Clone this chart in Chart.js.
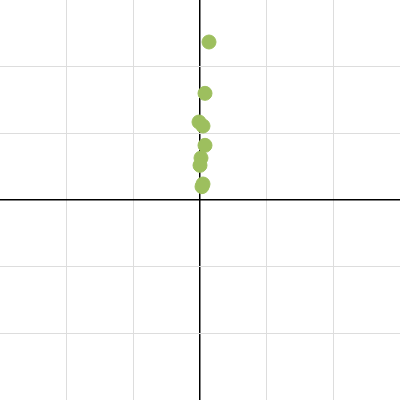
<!DOCTYPE html>
<html>
<head>
<script src="https://cdn.jsdelivr.net/npm/chart.js@4"></script>
<style>
  html, body { margin: 0; padding: 0; background: #fff; }
  #wrap { width: 400px; height: 400px; }
</style>
</head>
<body>
<div id="wrap"><canvas id="grafico"></canvas></div>
<script>
// data
const xValues = [0.135, 0.075, -0.015, 0.045, 0.075, 0.015, 0.0, 0.045, 0.03];
const yValues = [2.37, 1.6, 1.17, 1.11, 0.82, 0.63, 0.52, 0.24, 0.2];
const axisMin = -3;
const axisMax = 3;

const pontos = xValues.map((x, i) => ({ x: x, y: yValues[i] }));

function gridColor(ctx) {
  if (!ctx.tick) return "#dddddd";
  if (ctx.tick.value === 0) return "#000";
  if (Math.abs(ctx.tick.value) >= 3) return "rgba(0,0,0,0)";
  return "#dddddd";
}

const eixo = {
  type: "linear",
  min: axisMin,
  max: axisMax,
  ticks: { display: false, stepSize: 1, padding: 0 },
  border: { display: false },
  grid: {
    color: gridColor,
    lineWidth: (c) => (c.tick && c.tick.value === 0 ? 1.5 : 1),
    drawTicks: false,
    tickLength: 0,
  },
};

new Chart(document.getElementById("grafico"), {
  type: "scatter",
  data: {
    datasets: [
      {
        data: pontos,
        backgroundColor: "#9dbf5e",
        borderColor: "#9dbf5e",
        pointRadius: 7,
        pointHoverRadius: 7,
      },
    ],
  },
  options: {
    responsive: true,
    maintainAspectRatio: false,
    animation: false,
    layout: { padding: -1, autoPadding: false },
    plugins: { legend: { display: false }, tooltip: { enabled: false } },
    scales: { x: eixo, y: { ...eixo } },
  },
});
</script>
</body>
</html>
